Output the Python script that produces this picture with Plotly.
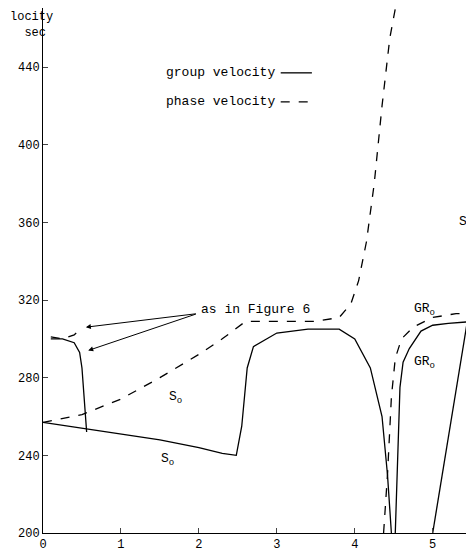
import plotly.graph_objects as go

# group velocity branches
g1_x = [0, 0.5, 1.0, 1.5, 2.0, 2.3, 2.48, 2.55, 2.62, 2.7, 3.0, 3.4, 3.8, 4.0, 4.2, 4.35, 4.42, 4.47]
g1_y = [257, 254, 251, 248, 244, 241, 240, 255, 285, 296, 303, 305, 305, 300, 285, 260, 230, 200]
g2_x = [0.1, 0.25, 0.4, 0.47, 0.5, 0.52, 0.54, 0.56]
g2_y = [300, 300, 298, 293, 285, 275, 262, 252]
g3_x = [4.52, 4.55, 4.58, 4.62, 4.7, 4.85, 5.0, 5.2, 5.53]
g3_y = [200, 240, 275, 288, 295, 304, 307, 308, 309]
g4_x = [5.0, 5.53]
g4_y = [200, 330]
# phase velocity branches
p1_x = [0, 0.5, 1.0, 1.5, 2.0, 2.3, 2.6, 3.0, 3.5, 3.8, 3.95, 4.05, 4.15, 4.25, 4.35, 4.45, 4.52, 4.56]
p1_y = [257, 261, 269, 280, 292, 300, 309, 309, 309, 311, 318, 330, 350, 380, 420, 455, 470, 474]
p2_x = [4.37, 4.42, 4.47, 4.52, 4.6, 4.75, 5.0, 5.3, 5.53]
p2_y = [200, 230, 270, 290, 300, 306, 311, 313, 313]
p3_x = [0.1, 0.25, 0.4, 0.5]
p3_y = [301, 300, 302, 306]

x_ticks = [0, 1, 2, 3, 4, 5]
y_ticks = [200, 240, 280, 320, 360, 400, 440]

fig = go.Figure()
solid = dict(color="black", width=1.3)
dash = dict(color="black", width=1.3, dash="dash")
for xs, ys in [(g1_x, g1_y), (g2_x, g2_y), (g3_x, g3_y), (g4_x, g4_y)]:
    fig.add_trace(go.Scatter(x=xs, y=ys, mode="lines", line=solid, hoverinfo="skip"))
for xs, ys in [(p1_x, p1_y), (p2_x, p2_y), (p3_x, p3_y)]:
    fig.add_trace(go.Scatter(x=xs, y=ys, mode="lines", line=dash, hoverinfo="skip"))
# legend lines
fig.add_trace(go.Scatter(x=[3.05, 3.45], y=[437, 437], mode="lines", line=solid))
fig.add_trace(go.Scatter(x=[3.05, 3.45], y=[422, 422], mode="lines", line=dash))

f = dict(family="Liberation Mono", size=13, color="black")
anns = [
    dict(x=1.55, y=437, text="group velocity", xanchor="left"),
    dict(x=1.55, y=422, text="phase velocity", xanchor="left"),
    dict(x=2.0, y=315, text="as in Figure 6", xanchor="left"),
    dict(x=1.7, y=270, text="S<sub>o</sub>", xanchor="center"),
    dict(x=1.6, y=238, text="S<sub>o</sub>", xanchor="center"),
    dict(x=5.53, y=360, text="S<sub>o</sub>", xanchor="right"),
    dict(x=4.9, y=315, text="GR<sub>o</sub>", xanchor="center"),
    dict(x=4.9, y=288, text="GR<sub>o</sub>", xanchor="center"),
]
for a in anns:
    fig.add_annotation(**a, showarrow=False, font=f)
for tx, ty in [(0.55, 306), (0.58, 294)]:
    fig.add_annotation(x=tx, y=ty, ax=1.98, ay=313, axref="x", ayref="y", text="",
                       showarrow=True, arrowhead=2, arrowsize=1, arrowwidth=1, arrowcolor="black")
fig.add_annotation(xref="paper", yref="paper", x=-0.081, y=1.0, xanchor="left", yanchor="top",
                   text="locity<br>  sec", showarrow=False, align="left",
                   font=dict(family="Liberation Mono", size=12, color="black"))

tf = dict(family="Liberation Mono", size=12, color="black")
fig.update_layout(
    width=466, height=545, showlegend=False,
    margin=dict(l=35, r=0, t=0, b=20),
    paper_bgcolor="white", plot_bgcolor="white",
    xaxis=dict(range=[0, 5.53], tickvals=x_ticks, showgrid=False, zeroline=False, automargin=False,
               showline=True, linecolor="black", ticks="inside", ticklen=5, tickfont=tf),
    yaxis=dict(range=[200, 470.4], tickvals=y_ticks, showgrid=False, zeroline=False, automargin=False,
               showline=True, linecolor="black", ticks="inside", ticklen=5, tickfont=tf),
)
fig.write_html("out.html")
